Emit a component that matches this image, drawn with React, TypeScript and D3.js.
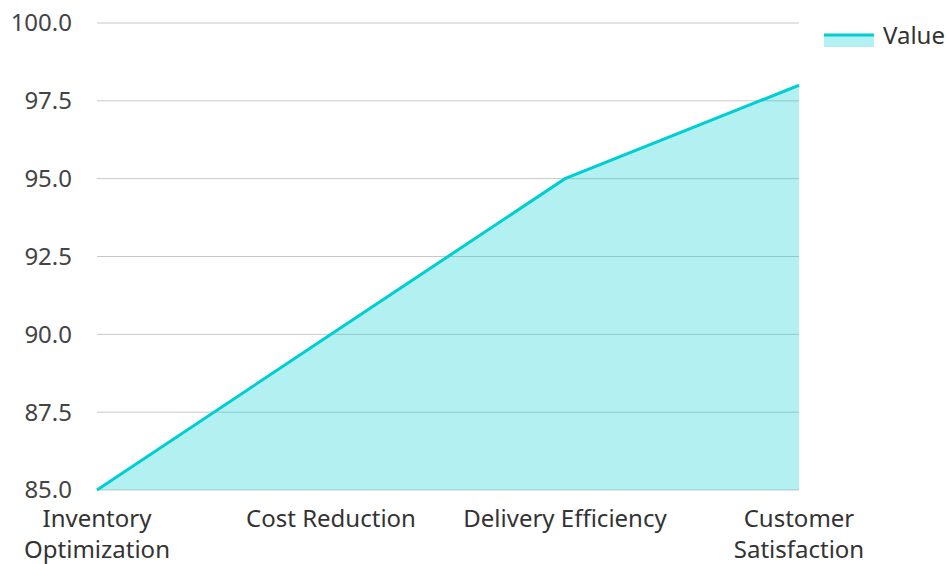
import React, { useEffect, useRef } from 'react';
import * as d3 from 'd3';

const categories = [
  'Inventory Optimization',
  'Cost Reduction',
  'Delivery Efficiency',
  'Customer Satisfaction',
];
const values = [85, 90, 95, 98];
const yTicks = [85, 87.5, 90, 92.5, 95, 97.5, 100];
const seriesName = 'Value';

const FONT = "'Noto Sans', 'Open Sans', sans-serif";
const LINE = '#00CED1';

export default function App() {
  const ref = useRef<SVGSVGElement>(null);

  useEffect(() => {
    const svg = d3.select(ref.current);
    svg.selectAll('*').remove();

    const left = 97, right = 799, top = 23, bottom = 490;

    const x = d3.scalePoint<string>().domain(categories).range([left, right]);
    const y = d3.scaleLinear().domain([85, 100]).range([bottom, top]);

    // grid
    svg.append('g')
      .selectAll('line')
      .data(yTicks)
      .join('line')
      .attr('x1', left).attr('x2', right)
      .attr('y1', d => y(d)).attr('y2', d => y(d))
      .attr('stroke', '#c8c8c8').attr('stroke-width', 1);

    // y labels
    svg.append('g')
      .selectAll('text')
      .data(yTicks)
      .join('text')
      .attr('x', 72)
      .attr('y', d => y(d))
      .attr('dy', '0.35em')
      .attr('text-anchor', 'end')
      .style('font-family', FONT)
      .style('font-size', '24px')
      .attr('fill', '#444')
      .text(d => d.toFixed(1));

    const pts = categories.map((c, i) => [x(c) as number, values[i]] as [number, number]);

    const area = d3.area<[number, number]>()
      .x(d => d[0]).y0(y(85)).y1(d => y(d[1]));
    svg.append('path')
      .attr('d', area(pts))
      .attr('fill', LINE).attr('fill-opacity', 0.3);

    const line = d3.line<[number, number]>().x(d => d[0]).y(d => y(d[1]));
    svg.append('path')
      .attr('d', line(pts))
      .attr('fill', 'none')
      .attr('stroke', LINE).attr('stroke-width', 3);

    // x labels
    const words = (s: string) => {
      if (s === 'Cost Reduction' || s === 'Delivery Efficiency') return [s];
      return s.split(' ');
    };
    const xl = svg.append('g');
    categories.forEach(c => {
      const t = xl.append('text')
        .attr('x', x(c) as number)
        .attr('y', 527)
        .attr('text-anchor', 'middle')
        .style('font-family', FONT)
        .style('font-size', '24px')
        .attr('fill', '#333');
      words(c).forEach((w, i) => {
        t.append('tspan').attr('x', x(c) as number).attr('dy', i === 0 ? 0 : 31).text(w);
      });
    });

    // legend
    const lg = svg.append('g');
    lg.append('rect').attr('x', 824).attr('y', 34).attr('width', 50).attr('height', 13)
      .attr('fill', LINE).attr('fill-opacity', 0.3);
    lg.append('line').attr('x1', 824).attr('x2', 874).attr('y1', 35).attr('y2', 35)
      .attr('stroke', LINE).attr('stroke-width', 3);
    lg.append('text').attr('x', 883).attr('y', 36).attr('dy', '0.35em')
      .style('font-family', FONT).style('font-size', '24px').attr('fill', '#333')
      .text(seriesName);
  }, []);

  return (
    <svg ref={ref} width={949} height={564}
      style={{ position: 'absolute', left: 0, top: 0 }} />
  );
}
